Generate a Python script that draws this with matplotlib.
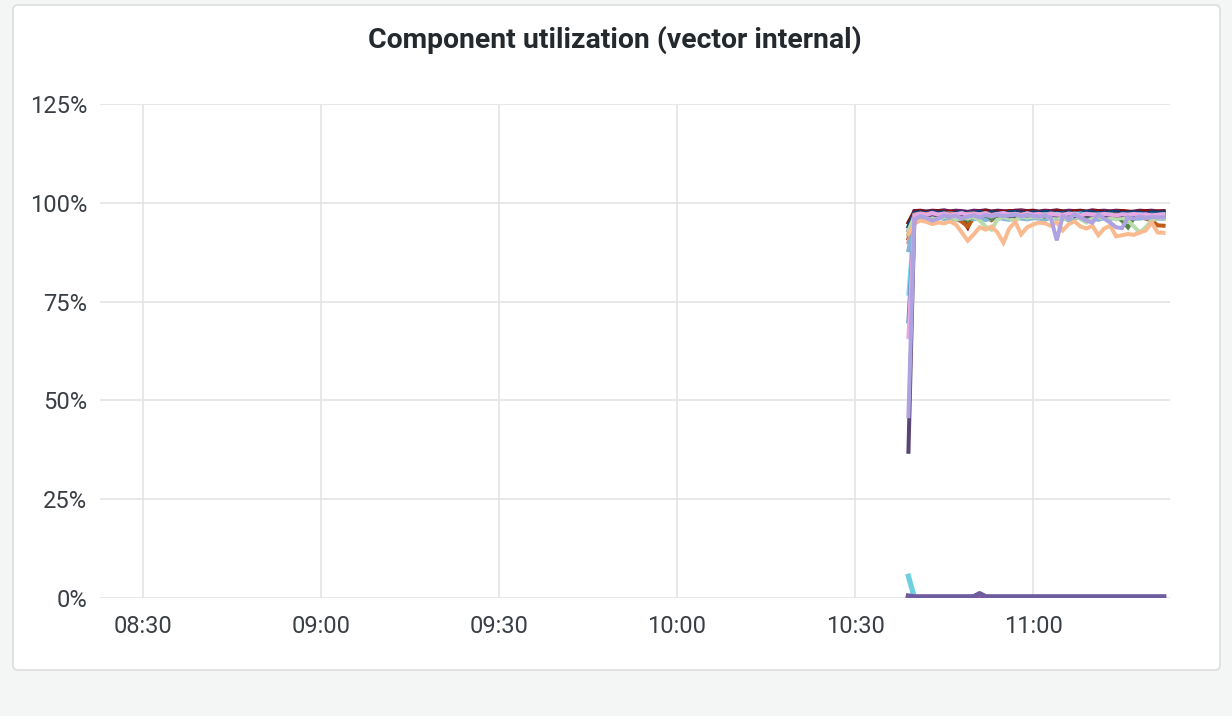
import numpy as np
import pandas as pd
import matplotlib
matplotlib.use("Agg")
import matplotlib.pyplot as plt
import matplotlib.dates as mdates
from matplotlib.patches import FancyBboxPatch

# one sample per minute, 10:39 .. 11:22
times = pd.date_range("2024-01-01 10:39", periods=44, freq="1min")

dark_magenta = [93.0, 97.9, 98.0, 97.8, 98.0, 97.9, 98.1, 97.8, 98.0, 97.9, 97.7,
                98.0, 97.9, 98.1, 97.8, 98.0, 97.9, 97.8, 98.0, 98.1, 97.9, 98.0,
                97.8, 98.0, 97.9, 98.1, 97.8, 98.0, 97.9, 98.0, 97.8, 98.1, 97.9,
                98.0, 97.8, 98.0, 97.9, 97.6, 97.8, 98.0, 97.9, 98.0, 97.8, 97.9]
maroon = [95.0, 97.8, 97.9, 97.6, 97.8, 97.9, 97.7, 97.8, 97.6, 96.2, 93.8,
          97.0, 97.8, 97.9, 97.7, 97.8, 97.6, 97.9, 97.8, 97.7, 97.8, 97.9,
          97.6, 97.8, 97.7, 97.9, 97.8, 97.6, 97.8, 97.9, 97.7, 97.8, 97.9,
          97.6, 97.8, 97.7, 97.9, 97.8, 97.6, 97.8, 97.9, 97.7, 97.8, 97.8]
navy = [94.0, 97.5, 97.6, 97.4, 97.7, 97.5, 97.6, 97.3, 97.5, 97.6, 97.4,
        97.5, 97.7, 97.4, 97.6, 97.5, 97.3, 97.6, 97.7, 97.5, 97.4, 97.6,
        97.5, 97.7, 97.6, 97.4, 97.5, 97.6, 97.3, 97.5, 97.7, 97.6, 97.4,
        97.5, 97.6, 97.7, 97.4, 97.5, 97.6, 97.5, 97.3, 97.6, 97.5, 97.6]
brown = [91.0, 96.8, 97.2, 96.9, 97.1, 96.5, 97.0, 96.8, 96.0, 95.2, 94.0,
         96.3, 97.0, 96.4, 95.6, 96.8, 97.1, 96.9, 97.0, 96.5, 96.9, 97.1,
         96.8, 97.0, 96.7, 96.9, 97.1, 96.8, 96.6, 97.0, 96.9, 96.7, 97.0,
         96.8, 96.9, 97.1, 96.6, 96.8, 96.9, 96.4, 96.0, 95.5, 94.3, 94.2]
salmon = [90.0, 97.0, 97.3, 97.1, 97.4, 97.0, 97.2, 97.3, 97.1, 97.0, 97.2,
          97.3, 97.1, 97.4, 97.0, 97.2, 97.3, 97.1, 97.2, 97.0, 97.3, 97.1,
          97.2, 97.0, 97.3, 97.1, 97.2, 97.0, 97.3, 97.1, 97.2, 97.0, 97.1,
          96.9, 97.0, 96.8, 96.7, 96.5, 96.6, 96.4, 96.5, 96.6, 96.3, 96.5]
cyan = [77.0, 96.5, 97.0, 96.8, 97.2, 96.9, 97.1, 96.7, 97.0, 97.3, 96.8,
        97.1, 96.9, 97.2, 96.8, 97.0, 97.3, 96.9, 97.1, 96.8, 97.2, 97.0,
        96.8, 97.1, 96.9, 97.2, 97.0, 96.8, 97.1, 97.3, 96.9, 97.0, 97.2,
        96.9, 97.1, 96.8, 97.0, 97.2, 96.9, 97.1, 96.8, 97.0, 96.9, 97.1]
blue = [70.0, 96.0, 96.4, 96.2, 96.5, 96.1, 96.3, 96.6, 96.2, 96.4, 96.0,
        96.3, 96.5, 96.1, 96.4, 96.2, 96.6, 96.3, 96.0, 96.4, 96.5, 96.2,
        96.4, 96.1, 96.5, 96.3, 96.2, 96.6, 96.4, 96.1, 96.3, 96.5, 96.2,
        96.4, 96.3, 96.5, 96.1, 96.4, 96.2, 96.6, 96.3, 96.5, 96.2, 96.4]
light_blue = [88.0, 95.8, 96.2, 96.0, 95.6, 96.3, 95.9, 96.1, 95.7, 96.0, 96.2,
              95.8, 96.1, 95.6, 96.0, 96.3, 95.9, 95.7, 96.2, 96.0, 95.8, 96.1,
              96.0, 95.7, 96.2, 95.9, 96.1, 95.6, 96.0, 96.3, 95.8, 96.0, 95.7,
              96.1, 95.9, 96.2, 95.8, 95.5, 95.9, 96.0, 96.2, 95.8, 96.0, 95.9]
green = [92.0, 96.8, 97.0, 96.6, 96.9, 96.4, 96.8, 97.0, 96.5, 96.2, 95.5,
         96.8, 96.4, 96.9, 96.0, 96.6, 96.9, 96.7, 96.4, 96.8, 97.0, 96.6,
         96.8, 96.5, 96.9, 96.7, 96.4, 96.8, 96.6, 96.9, 96.5, 96.8, 96.6,
         96.7, 96.9, 96.4, 95.5, 93.8, 96.2, 96.8, 96.5, 96.9, 96.6, 96.8]
light_green = [93.0, 96.5, 96.8, 96.2, 96.6, 96.0, 96.4, 96.7, 95.8, 96.3, 96.0,
               96.5, 95.5, 94.0, 93.2, 95.8, 96.4, 96.0, 95.5, 96.6, 96.2, 96.5,
               96.3, 96.7, 96.0, 96.4, 95.8, 96.2, 96.6, 95.9, 95.0, 96.1, 96.4,
               96.0, 96.3, 95.8, 96.2, 95.5, 94.0, 92.5, 93.8, 95.5, 96.2, 96.0]
light_orange = [92.0, 94.8, 95.5, 95.2, 94.6, 95.0, 94.8, 95.3, 94.5, 92.5, 90.4,
                92.0, 93.8, 93.2, 94.0, 92.5, 89.9, 93.5, 95.2, 92.0, 93.8, 94.5,
                95.0, 94.8, 94.2, 95.1, 93.0, 94.6, 95.3, 94.0, 93.5, 94.2, 91.8,
                93.5, 94.2, 91.5, 91.8, 92.1, 91.9, 92.5, 93.0, 95.0, 92.5, 92.4]
dark_purple = [37.0, 96.5, 97.0, 96.7, 97.1, 96.8, 97.0, 96.6, 96.9, 97.1, 96.8,
               97.0, 96.7, 96.9, 97.1, 96.8, 97.0, 96.6, 96.9, 97.0, 96.8, 97.1,
               96.9, 96.7, 97.0, 96.8, 97.1, 96.9, 96.6, 97.0, 96.8, 96.9, 97.1,
               96.7, 97.0, 96.8, 96.9, 97.1, 96.7, 96.9, 97.0, 96.8, 96.9, 97.0]
pink = [66.0, 96.8, 97.2, 96.9, 97.4, 97.0, 97.3, 96.8, 97.1, 97.4, 96.9,
        97.2, 97.0, 97.3, 96.8, 97.1, 97.4, 97.0, 97.2, 96.9, 97.3, 97.0,
        97.1, 96.8, 97.2, 97.0, 96.9, 97.3, 97.1, 96.8, 97.2, 97.0, 96.9,
        97.2, 97.0, 96.8, 97.1, 96.9, 97.2, 97.0, 97.1, 96.8, 97.0, 97.1]
lavender = [46.0, 95.8, 96.6, 96.2, 95.5, 96.0, 96.8, 96.5, 96.7, 96.0, 96.5,
            96.8, 96.3, 96.9, 96.5, 97.0, 96.6, 96.8, 97.0, 96.6, 96.9, 96.7,
            96.5, 96.8, 96.2, 90.5, 96.6, 96.0, 97.0, 96.2, 95.5, 95.0, 97.0,
            96.0, 95.0, 93.8, 93.6, 96.3, 96.0, 96.5, 96.2, 96.4, 96.3, 96.3]

# near-zero components
low_cyan = [5.5, 0.1, 0.0, 0.0, 0.0, 0.0, 0.0, 0.0, 0.0, 0.0, 0.0,
            0.0, 0.0, 0.0, 0.0, 0.0, 0.0, 0.0, 0.0, 0.0, 0.0, 0.0,
            0.0, 0.0, 0.0, 0.0, 0.0, 0.0, 0.0, 0.0, 0.0, 0.0, 0.0,
            0.0, 0.0, 0.0, 0.0, 0.0, 0.0, 0.0, 0.0, 0.0, 0.0, 0.0]
low_magenta = [0.2, 0.1, 0.1, 0.1, 0.1, 0.1, 0.1, 0.1, 0.1, 0.1, 0.1,
               0.2, 0.8, 0.2, 0.1, 0.1, 0.1, 0.1, 0.1, 0.1, 0.1, 0.1,
               0.1, 0.1, 0.1, 0.1, 0.1, 0.1, 0.1, 0.1, 0.1, 0.1, 0.1,
               0.1, 0.1, 0.1, 0.1, 0.1, 0.1, 0.1, 0.1, 0.1, 0.1, 0.1]
low_purple = [0.5, 0.3, 0.3, 0.3, 0.3, 0.3, 0.3, 0.3, 0.3, 0.3, 0.3,
              0.3, 1.1, 0.3, 0.3, 0.3, 0.3, 0.3, 0.3, 0.3, 0.3, 0.3,
              0.3, 0.3, 0.3, 0.3, 0.3, 0.3, 0.3, 0.3, 0.3, 0.3, 0.3,
              0.3, 0.3, 0.3, 0.3, 0.3, 0.3, 0.3, 0.3, 0.3, 0.3, 0.3]

high_series = [
    (dark_magenta, "#6D1F62"), (maroon, "#890F02"), (navy, "#0A437C"),
    (brown, "#C15C17"), (salmon, "#F29191"), (cyan, "#70DBED"),
    (blue, "#447EBC"), (light_blue, "#82B5D8"), (green, "#508642"),
    (light_green, "#B7DBAB"), (light_orange, "#F9BA8F"), (dark_purple, "#584477"),
    (pink, "#E5A8E2"), (lavender, "#AEA2E0"),
]
low_series = [(low_cyan, "#6ED0E0"), (low_magenta, "#BA43A9"), (low_purple, "#705DA0")]

plt.rcParams["font.family"] = ["Roboto", "DejaVu Sans"]

fig = plt.figure(figsize=(12.32, 7.16), dpi=100)
fig.patch.set_facecolor("#f4f5f5")

# white panel behind the axes
panel = FancyBboxPatch((13, 46), 1207, 665, boxstyle="round,pad=0,rounding_size=5",
                       transform=None, facecolor="white", edgecolor="#dcdede",
                       linewidth=1.2, zorder=-10)
fig.add_artist(panel)

ax = fig.add_axes([100 / 1232, 1 - 598 / 716, 1070 / 1232, 494 / 716])
ax.set_facecolor("none")

for vals, col in high_series:
    ax.plot(times, vals, color=col, lw=2.9, solid_joinstyle="miter")
for vals, col in low_series:
    ax.plot(times, vals, color=col, lw=3.8)

ax.set_ylim(0, 125)
ax.set_yticks([0, 25, 50, 75, 100, 125])
ax.set_yticklabels(["0%", "25%", "50%", "75%", "100%", "125%"])
ax.set_xlim(pd.Timestamp("2024-01-01 08:22:45"), pd.Timestamp("2024-01-01 11:23:05"))
ax.set_xticks(pd.date_range("2024-01-01 08:30", "2024-01-01 11:00", freq="30min"))
ax.xaxis.set_major_formatter(mdates.DateFormatter("%H:%M"))

ax.grid(True, color="#e4e4e4", lw=1.2)
ax.set_axisbelow(True)
for s in ax.spines.values():
    s.set_visible(False)
ax.tick_params(length=0, labelsize=17, colors="#3a3f45")
ax.tick_params(axis="y", pad=9)
ax.tick_params(axis="x", pad=12)

fig.text(615 / 1232, 1 - 40 / 716, "Component utilization (vector internal)",
         ha="center", va="center", fontsize=20.4, fontweight="bold", color="#24292e")

fig.savefig("out.png", dpi=100, facecolor=fig.get_facecolor())
